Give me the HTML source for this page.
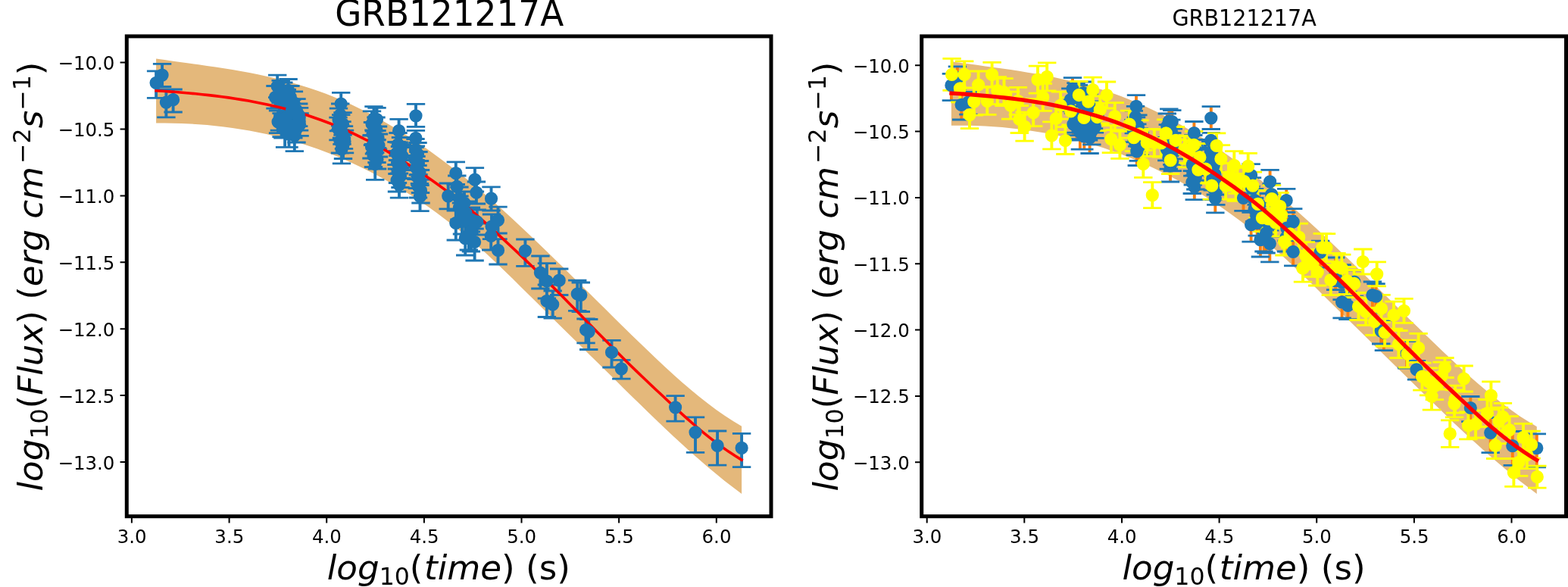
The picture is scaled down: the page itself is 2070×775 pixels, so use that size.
<!DOCTYPE html>
<html lang="en">
<head>
<meta charset="utf-8">
<title>GRB121217A light curve</title>
<style>html,body{margin:0;padding:0;background:#fff;overflow:hidden}svg{display:block}</style>
</head>
<body>
<svg width="2070" height="775" viewBox="0 0 2070 775" font-family="'DejaVu Sans', 'Liberation Sans', sans-serif" fill="#000">
<rect width="2070" height="775" fill="#fff"/>
<defs><clipPath id="cl"><rect x="167.3" y="47.9" width="850.7" height="633.8"/></clipPath>
<clipPath id="cr"><rect x="1216.7" y="47.9" width="850.8" height="633.8"/></clipPath>
</defs>
<g clip-path="url(#cl)">
<path d="M206.1,77.5 L217.3,79.1 L228.5,80.7 L239.7,82.2 L250.9,83.8 L262.1,85.3 L273.3,86.9 L284.5,88.6 L295.7,90.3 L306.9,92.1 L318.1,94.1 L329.3,96.1 L340.5,98.3 L351.7,100.7 L362.9,103.3 L374.1,106.1 L385.3,109.1 L396.5,112.4 L407.8,115.9 L419.0,119.7 L430.2,123.8 L441.4,128.2 L452.6,132.9 L463.8,138.0 L475.0,143.4 L486.2,149.1 L497.4,155.1 L508.6,161.4 L519.8,168.0 L531.0,174.9 L542.2,182.1 L553.4,189.6 L564.6,197.3 L575.8,205.4 L587.0,213.7 L598.2,222.2 L609.4,231.1 L620.6,240.1 L631.8,249.5 L643.0,259.0 L654.2,268.8 L665.4,278.8 L676.6,289.0 L687.8,299.4 L699.0,310.0 L710.2,320.7 L721.4,331.5 L732.6,342.4 L743.8,353.3 L755.0,364.4 L766.2,375.5 L777.4,386.6 L788.7,397.7 L799.9,408.8 L811.1,419.9 L822.3,431.0 L833.5,441.9 L844.7,452.8 L855.9,463.6 L867.1,474.2 L878.3,484.7 L889.5,494.9 L900.7,504.9 L911.9,514.5 L923.1,523.8 L934.3,532.6 L945.5,541.0 L956.7,548.8 L967.9,556.1 L979.1,562.7 L979.1,651.9 L967.9,643.6 L956.7,634.9 L945.5,625.8 L934.3,616.4 L923.1,606.8 L911.9,596.9 L900.7,586.8 L889.5,576.4 L878.3,565.9 L867.1,555.3 L855.9,544.5 L844.7,533.6 L833.5,522.7 L822.3,511.7 L811.1,500.6 L799.9,489.5 L788.7,478.4 L777.4,467.4 L766.2,456.3 L755.0,445.2 L743.8,434.2 L732.6,423.2 L721.4,412.2 L710.2,401.1 L699.0,390.0 L687.8,378.9 L676.6,367.8 L665.4,356.9 L654.2,346.2 L643.0,335.8 L631.8,325.7 L620.6,316.0 L609.4,306.6 L598.2,297.6 L587.0,289.0 L575.8,280.6 L564.6,272.6 L553.4,264.9 L542.2,257.6 L531.0,250.5 L519.8,243.8 L508.6,237.4 L497.4,231.3 L486.2,225.5 L475.0,220.0 L463.8,214.7 L452.6,209.8 L441.4,205.1 L430.2,200.7 L419.0,196.6 L407.8,192.7 L396.5,189.1 L385.3,185.7 L374.1,182.6 L362.9,179.8 L351.7,177.1 L340.5,174.8 L329.3,172.6 L318.1,170.7 L306.9,168.9 L295.7,167.4 L284.5,166.2 L273.3,165.1 L262.1,164.2 L250.9,163.5 L239.7,163.0 L228.5,162.7 L217.3,162.6 L206.1,162.6Z" fill="#e4b87b"/>
<path d="M214.1,84.3V114.5M206.1,93.8V129.3M219.4,118.0V154.9M228.6,118.0V148.0M366.2,99.1V128.7M363.5,113.5V143.2M380.6,104.5V134.1M374.3,109.0V138.6M383.4,113.5V143.2M370.7,106.3V135.9M387.9,120.8V150.4M385.2,131.6V161.2M391.5,130.7V160.3M394.2,137.0V166.6M395.1,142.4V172.1M368.9,142.4V172.1M371.6,149.7V180.7M376.1,156.4V194.3M381.5,161.8V194.3M388.8,163.6V199.7M391.5,154.5V188.0M395.6,149.7V179.3M367.1,146.1V175.7M378.8,118.1V147.7M373.4,152.4V182.0M377.0,141.0V170.6M387.3,152.4V182.0M450.2,122.4V151.6M449.2,137.0V166.0M447.0,143.2V172.8M452.5,148.7V178.3M446.5,155.2V184.8M451.5,160.7V190.3M454.0,166.7V196.3M449.0,171.7V202.0M453.0,176.7V209.5M451.0,182.2V215.8M455.0,172.2V201.8M493.5,140.7V171.9M497.5,142.4V172.5M491.0,146.8V178.5M496.5,155.0V185.0M492.0,161.5V191.5M499.0,167.0V197.0M494.0,173.0V203.0M490.5,179.0V209.0M497.5,184.5V214.5M493.0,190.5V220.5M498.0,195.5V223.0M495.2,201.5V237.4M500.0,177.0V207.0M526.6,157.4V188.0M525.5,175.5V205.5M529.0,181.5V211.5M523.5,187.5V217.5M528.0,193.5V223.5M524.5,199.5V229.5M530.0,205.5V235.5M525.0,211.5V241.5M528.5,217.5V247.5M524.0,223.0V253.0M527.0,229.0V261.2M531.0,191.0V221.0M549.0,137.4V167.4M548.9,172.3V192.8M548.5,183.5V211.5M551.5,188.5V218.5M547.5,194.5V224.5M552.5,200.5V230.5M549.5,206.5V236.5M554.0,212.5V242.5M551.0,218.5V248.5M555.0,224.5V254.5M552.0,231.0V261.0M555.5,237.0V268.0M554.5,244.5V278.6M601.8,213.9V243.5M626.9,221.7V253.0M591.7,242.0V275.9M628.9,240.0V269.0M648.5,246.9V278.0M657.5,273.2V308.0M649.0,283.0V315.7M648.2,295.0V330.0M603.3,232.0V261.0M606.4,247.0V277.0M606.4,259.0V290.0M613.0,253.0V284.0M601.8,278.0V317.0M610.0,276.0V309.0M621.9,274.0V306.0M629.7,277.0V310.0M621.9,288.0V332.0M614.2,297.0V337.0M618.8,295.0V330.0M626.6,302.0V344.0M615.0,266.0V297.0M609.0,268.0V299.0M657.5,315.7V349.0M693.4,316.0V351.3M713.4,338.0V381.0M721.9,347.7V394.0M738.2,355.0V389.5M762.2,370.2V410.4M766.8,373.0V411.5M721.9,376.0V418.5M729.7,384.0V420.2M773.5,421.0V452.8M777.2,421.5V461.5M807.5,449.4V485.0M820.3,475.4V500.2M891.6,522.7V556.1M918.0,550.9V597.4M947.1,569.0V614.1M979.1,572.3V616.7" stroke="#1f77b4" stroke-width="3.9" fill="none"/>
<path d="M201.9,84.3h24.4M201.9,114.5h24.4M193.9,93.8h24.4M193.9,129.3h24.4M207.2,118.0h24.4M207.2,154.9h24.4M216.4,118.0h24.4M216.4,148.0h24.4M354.0,99.1h24.4M354.0,128.7h24.4M351.3,113.5h24.4M351.3,143.2h24.4M368.4,104.5h24.4M368.4,134.1h24.4M362.1,109.0h24.4M362.1,138.6h24.4M371.2,113.5h24.4M371.2,143.2h24.4M358.5,106.3h24.4M358.5,135.9h24.4M375.7,120.8h24.4M375.7,150.4h24.4M373.0,131.6h24.4M373.0,161.2h24.4M379.3,130.7h24.4M379.3,160.3h24.4M382.0,137.0h24.4M382.0,166.6h24.4M382.9,142.4h24.4M382.9,172.1h24.4M356.7,142.4h24.4M356.7,172.1h24.4M359.4,149.7h24.4M359.4,180.7h24.4M363.9,156.4h24.4M363.9,194.3h24.4M369.3,161.8h24.4M369.3,194.3h24.4M376.6,163.6h24.4M376.6,199.7h24.4M379.3,154.5h24.4M379.3,188.0h24.4M383.4,149.7h24.4M383.4,179.3h24.4M354.9,146.1h24.4M354.9,175.7h24.4M366.6,118.1h24.4M366.6,147.7h24.4M361.2,152.4h24.4M361.2,182.0h24.4M364.8,141.0h24.4M364.8,170.6h24.4M375.1,152.4h24.4M375.1,182.0h24.4M438.0,122.4h24.4M438.0,151.6h24.4M437.0,137.0h24.4M437.0,166.0h24.4M434.8,143.2h24.4M434.8,172.8h24.4M440.3,148.7h24.4M440.3,178.3h24.4M434.3,155.2h24.4M434.3,184.8h24.4M439.3,160.7h24.4M439.3,190.3h24.4M441.8,166.7h24.4M441.8,196.3h24.4M436.8,171.7h24.4M436.8,202.0h24.4M440.8,176.7h24.4M440.8,209.5h24.4M438.8,182.2h24.4M438.8,215.8h24.4M442.8,172.2h24.4M442.8,201.8h24.4M481.3,140.7h24.4M481.3,171.9h24.4M485.3,142.4h24.4M485.3,172.5h24.4M478.8,146.8h24.4M478.8,178.5h24.4M484.3,155.0h24.4M484.3,185.0h24.4M479.8,161.5h24.4M479.8,191.5h24.4M486.8,167.0h24.4M486.8,197.0h24.4M481.8,173.0h24.4M481.8,203.0h24.4M478.3,179.0h24.4M478.3,209.0h24.4M485.3,184.5h24.4M485.3,214.5h24.4M480.8,190.5h24.4M480.8,220.5h24.4M485.8,195.5h24.4M485.8,223.0h24.4M483.0,201.5h24.4M483.0,237.4h24.4M487.8,177.0h24.4M487.8,207.0h24.4M514.4,157.4h24.4M514.4,188.0h24.4M513.3,175.5h24.4M513.3,205.5h24.4M516.8,181.5h24.4M516.8,211.5h24.4M511.3,187.5h24.4M511.3,217.5h24.4M515.8,193.5h24.4M515.8,223.5h24.4M512.3,199.5h24.4M512.3,229.5h24.4M517.8,205.5h24.4M517.8,235.5h24.4M512.8,211.5h24.4M512.8,241.5h24.4M516.3,217.5h24.4M516.3,247.5h24.4M511.8,223.0h24.4M511.8,253.0h24.4M514.8,229.0h24.4M514.8,261.2h24.4M518.8,191.0h24.4M518.8,221.0h24.4M536.8,137.4h24.4M536.8,167.4h24.4M536.7,172.3h24.4M536.7,192.8h24.4M536.3,183.5h24.4M536.3,211.5h24.4M539.3,188.5h24.4M539.3,218.5h24.4M535.3,194.5h24.4M535.3,224.5h24.4M540.3,200.5h24.4M540.3,230.5h24.4M537.3,206.5h24.4M537.3,236.5h24.4M541.8,212.5h24.4M541.8,242.5h24.4M538.8,218.5h24.4M538.8,248.5h24.4M542.8,224.5h24.4M542.8,254.5h24.4M539.8,231.0h24.4M539.8,261.0h24.4M543.3,237.0h24.4M543.3,268.0h24.4M542.3,244.5h24.4M542.3,278.6h24.4M589.6,213.9h24.4M589.6,243.5h24.4M614.7,221.7h24.4M614.7,253.0h24.4M579.5,242.0h24.4M579.5,275.9h24.4M616.7,240.0h24.4M616.7,269.0h24.4M636.3,246.9h24.4M636.3,278.0h24.4M645.3,273.2h24.4M645.3,308.0h24.4M636.8,283.0h24.4M636.8,315.7h24.4M636.0,295.0h24.4M636.0,330.0h24.4M591.1,232.0h24.4M591.1,261.0h24.4M594.2,247.0h24.4M594.2,277.0h24.4M594.2,259.0h24.4M594.2,290.0h24.4M600.8,253.0h24.4M600.8,284.0h24.4M589.6,278.0h24.4M589.6,317.0h24.4M597.8,276.0h24.4M597.8,309.0h24.4M609.7,274.0h24.4M609.7,306.0h24.4M617.5,277.0h24.4M617.5,310.0h24.4M609.7,288.0h24.4M609.7,332.0h24.4M602.0,297.0h24.4M602.0,337.0h24.4M606.6,295.0h24.4M606.6,330.0h24.4M614.4,302.0h24.4M614.4,344.0h24.4M602.8,266.0h24.4M602.8,297.0h24.4M596.8,268.0h24.4M596.8,299.0h24.4M645.3,315.7h24.4M645.3,349.0h24.4M681.2,316.0h24.4M681.2,351.3h24.4M701.2,338.0h24.4M701.2,381.0h24.4M709.7,347.7h24.4M709.7,394.0h24.4M726.0,355.0h24.4M726.0,389.5h24.4M750.0,370.2h24.4M750.0,410.4h24.4M754.6,373.0h24.4M754.6,411.5h24.4M709.7,376.0h24.4M709.7,418.5h24.4M717.5,384.0h24.4M717.5,420.2h24.4M761.3,421.0h24.4M761.3,452.8h24.4M765.0,421.5h24.4M765.0,461.5h24.4M795.3,449.4h24.4M795.3,485.0h24.4M808.1,475.4h24.4M808.1,500.2h24.4M879.4,522.7h24.4M879.4,556.1h24.4M905.8,550.9h24.4M905.8,597.4h24.4M934.9,569.0h24.4M934.9,614.1h24.4M966.9,572.3h24.4M966.9,616.7h24.4" stroke="#1f77b4" stroke-width="2.8" fill="none"/>
<path d="M206.1,119.7 L214.8,120.2 L223.5,120.9 L232.2,121.5 L240.8,122.2 L249.5,123.0 L258.2,123.8 L266.9,124.7 L275.6,125.6 L284.3,126.6 L293.0,127.7 L301.6,128.9 L310.3,130.2 L319.0,131.6 L327.7,133.1 L336.4,134.7 L345.1,136.4 L353.8,138.2 L362.4,140.2 L371.1,142.3 L379.8,144.6 L388.5,147.0 L397.2,149.5 L405.9,152.3 L414.5,155.2 L423.2,158.2 L431.9,161.5 L440.6,164.9 L449.3,168.5 L458.0,172.3 L466.7,176.3 L475.3,180.6 L484.0,185.0 L492.7,189.6 L501.4,194.3 L510.1,199.3 L518.8,204.4 L527.5,209.7 L536.1,215.2 L544.8,220.8 L553.5,226.5 L562.2,232.4 L570.9,238.5 L579.6,244.7 L588.3,251.1 L596.9,257.6 L605.6,264.4 L614.3,271.4 L623.0,278.7 L631.7,286.2 L640.4,293.9 L649.1,301.7 L657.7,309.6 L666.4,317.6 L675.1,325.7 L683.8,333.9 L692.5,342.1 L701.2,350.5 L709.9,359.0 L718.5,367.5 L727.2,376.1 L735.9,384.8 L744.6,393.6 L753.3,402.4 L762.0,411.3 L770.7,420.2 L779.3,429.0 L788.0,437.9 L796.7,446.8 L805.4,455.6 L814.1,464.3 L822.8,473.0 L831.4,481.5 L840.1,489.9 L848.8,498.2 L857.5,506.5 L866.2,514.7 L874.9,522.8 L883.6,531.0 L892.2,539.1 L900.9,547.1 L909.6,554.9 L918.3,562.5 L927.0,569.8 L935.7,576.8 L944.4,583.6 L953.0,590.0 L961.7,596.1 L970.4,601.8 L979.1,607.2" stroke="#ff0000" stroke-width="3.6" fill="none" stroke-linecap="square"/>
<path d="M205.5,99.1a8.6,8.6 0 1,0 17.2,0a8.6,8.6 0 1,0 -17.2,0M197.5,109.3a8.6,8.6 0 1,0 17.2,0a8.6,8.6 0 1,0 -17.2,0M210.8,135.1a8.6,8.6 0 1,0 17.2,0a8.6,8.6 0 1,0 -17.2,0M220.0,131.7a8.6,8.6 0 1,0 17.2,0a8.6,8.6 0 1,0 -17.2,0M357.6,113.9a8.6,8.6 0 1,0 17.2,0a8.6,8.6 0 1,0 -17.2,0M354.9,128.4a8.6,8.6 0 1,0 17.2,0a8.6,8.6 0 1,0 -17.2,0M372.0,119.3a8.6,8.6 0 1,0 17.2,0a8.6,8.6 0 1,0 -17.2,0M365.7,123.8a8.6,8.6 0 1,0 17.2,0a8.6,8.6 0 1,0 -17.2,0M374.8,128.4a8.6,8.6 0 1,0 17.2,0a8.6,8.6 0 1,0 -17.2,0M362.1,121.1a8.6,8.6 0 1,0 17.2,0a8.6,8.6 0 1,0 -17.2,0M379.3,135.6a8.6,8.6 0 1,0 17.2,0a8.6,8.6 0 1,0 -17.2,0M376.6,146.4a8.6,8.6 0 1,0 17.2,0a8.6,8.6 0 1,0 -17.2,0M382.9,145.5a8.6,8.6 0 1,0 17.2,0a8.6,8.6 0 1,0 -17.2,0M385.6,151.8a8.6,8.6 0 1,0 17.2,0a8.6,8.6 0 1,0 -17.2,0M386.5,157.3a8.6,8.6 0 1,0 17.2,0a8.6,8.6 0 1,0 -17.2,0M360.3,157.3a8.6,8.6 0 1,0 17.2,0a8.6,8.6 0 1,0 -17.2,0M363.0,164.5a8.6,8.6 0 1,0 17.2,0a8.6,8.6 0 1,0 -17.2,0M367.5,171.7a8.6,8.6 0 1,0 17.2,0a8.6,8.6 0 1,0 -17.2,0M372.9,177.1a8.6,8.6 0 1,0 17.2,0a8.6,8.6 0 1,0 -17.2,0M380.2,178.9a8.6,8.6 0 1,0 17.2,0a8.6,8.6 0 1,0 -17.2,0M382.9,169.9a8.6,8.6 0 1,0 17.2,0a8.6,8.6 0 1,0 -17.2,0M387.0,164.5a8.6,8.6 0 1,0 17.2,0a8.6,8.6 0 1,0 -17.2,0M358.5,160.9a8.6,8.6 0 1,0 17.2,0a8.6,8.6 0 1,0 -17.2,0M370.2,132.9a8.6,8.6 0 1,0 17.2,0a8.6,8.6 0 1,0 -17.2,0M364.8,167.2a8.6,8.6 0 1,0 17.2,0a8.6,8.6 0 1,0 -17.2,0M368.4,155.8a8.6,8.6 0 1,0 17.2,0a8.6,8.6 0 1,0 -17.2,0M378.7,167.2a8.6,8.6 0 1,0 17.2,0a8.6,8.6 0 1,0 -17.2,0M441.6,137.1a8.6,8.6 0 1,0 17.2,0a8.6,8.6 0 1,0 -17.2,0M440.6,151.5a8.6,8.6 0 1,0 17.2,0a8.6,8.6 0 1,0 -17.2,0M438.4,158.0a8.6,8.6 0 1,0 17.2,0a8.6,8.6 0 1,0 -17.2,0M443.9,163.5a8.6,8.6 0 1,0 17.2,0a8.6,8.6 0 1,0 -17.2,0M437.9,170.0a8.6,8.6 0 1,0 17.2,0a8.6,8.6 0 1,0 -17.2,0M442.9,175.5a8.6,8.6 0 1,0 17.2,0a8.6,8.6 0 1,0 -17.2,0M445.4,181.5a8.6,8.6 0 1,0 17.2,0a8.6,8.6 0 1,0 -17.2,0M440.4,186.5a8.6,8.6 0 1,0 17.2,0a8.6,8.6 0 1,0 -17.2,0M444.4,191.5a8.6,8.6 0 1,0 17.2,0a8.6,8.6 0 1,0 -17.2,0M442.4,197.0a8.6,8.6 0 1,0 17.2,0a8.6,8.6 0 1,0 -17.2,0M446.4,187.0a8.6,8.6 0 1,0 17.2,0a8.6,8.6 0 1,0 -17.2,0M484.9,156.9a8.6,8.6 0 1,0 17.2,0a8.6,8.6 0 1,0 -17.2,0M488.9,157.5a8.6,8.6 0 1,0 17.2,0a8.6,8.6 0 1,0 -17.2,0M482.4,163.5a8.6,8.6 0 1,0 17.2,0a8.6,8.6 0 1,0 -17.2,0M487.9,170.0a8.6,8.6 0 1,0 17.2,0a8.6,8.6 0 1,0 -17.2,0M483.4,176.5a8.6,8.6 0 1,0 17.2,0a8.6,8.6 0 1,0 -17.2,0M490.4,182.0a8.6,8.6 0 1,0 17.2,0a8.6,8.6 0 1,0 -17.2,0M485.4,188.0a8.6,8.6 0 1,0 17.2,0a8.6,8.6 0 1,0 -17.2,0M481.9,194.0a8.6,8.6 0 1,0 17.2,0a8.6,8.6 0 1,0 -17.2,0M488.9,199.5a8.6,8.6 0 1,0 17.2,0a8.6,8.6 0 1,0 -17.2,0M484.4,205.5a8.6,8.6 0 1,0 17.2,0a8.6,8.6 0 1,0 -17.2,0M489.4,210.5a8.6,8.6 0 1,0 17.2,0a8.6,8.6 0 1,0 -17.2,0M486.6,216.5a8.6,8.6 0 1,0 17.2,0a8.6,8.6 0 1,0 -17.2,0M491.4,192.0a8.6,8.6 0 1,0 17.2,0a8.6,8.6 0 1,0 -17.2,0M518.0,172.7a8.6,8.6 0 1,0 17.2,0a8.6,8.6 0 1,0 -17.2,0M516.9,190.5a8.6,8.6 0 1,0 17.2,0a8.6,8.6 0 1,0 -17.2,0M520.4,196.5a8.6,8.6 0 1,0 17.2,0a8.6,8.6 0 1,0 -17.2,0M514.9,202.5a8.6,8.6 0 1,0 17.2,0a8.6,8.6 0 1,0 -17.2,0M519.4,208.5a8.6,8.6 0 1,0 17.2,0a8.6,8.6 0 1,0 -17.2,0M515.9,214.5a8.6,8.6 0 1,0 17.2,0a8.6,8.6 0 1,0 -17.2,0M521.4,220.5a8.6,8.6 0 1,0 17.2,0a8.6,8.6 0 1,0 -17.2,0M516.4,226.5a8.6,8.6 0 1,0 17.2,0a8.6,8.6 0 1,0 -17.2,0M519.9,232.5a8.6,8.6 0 1,0 17.2,0a8.6,8.6 0 1,0 -17.2,0M515.4,238.0a8.6,8.6 0 1,0 17.2,0a8.6,8.6 0 1,0 -17.2,0M518.4,244.0a8.6,8.6 0 1,0 17.2,0a8.6,8.6 0 1,0 -17.2,0M522.4,206.0a8.6,8.6 0 1,0 17.2,0a8.6,8.6 0 1,0 -17.2,0M540.4,152.8a8.6,8.6 0 1,0 17.2,0a8.6,8.6 0 1,0 -17.2,0M540.3,182.3a8.6,8.6 0 1,0 17.2,0a8.6,8.6 0 1,0 -17.2,0M539.9,197.5a8.6,8.6 0 1,0 17.2,0a8.6,8.6 0 1,0 -17.2,0M542.9,203.5a8.6,8.6 0 1,0 17.2,0a8.6,8.6 0 1,0 -17.2,0M538.9,209.5a8.6,8.6 0 1,0 17.2,0a8.6,8.6 0 1,0 -17.2,0M543.9,215.5a8.6,8.6 0 1,0 17.2,0a8.6,8.6 0 1,0 -17.2,0M540.9,221.5a8.6,8.6 0 1,0 17.2,0a8.6,8.6 0 1,0 -17.2,0M545.4,227.5a8.6,8.6 0 1,0 17.2,0a8.6,8.6 0 1,0 -17.2,0M542.4,233.5a8.6,8.6 0 1,0 17.2,0a8.6,8.6 0 1,0 -17.2,0M546.4,239.5a8.6,8.6 0 1,0 17.2,0a8.6,8.6 0 1,0 -17.2,0M543.4,246.0a8.6,8.6 0 1,0 17.2,0a8.6,8.6 0 1,0 -17.2,0M546.9,252.0a8.6,8.6 0 1,0 17.2,0a8.6,8.6 0 1,0 -17.2,0M545.9,259.5a8.6,8.6 0 1,0 17.2,0a8.6,8.6 0 1,0 -17.2,0M593.2,228.6a8.6,8.6 0 1,0 17.2,0a8.6,8.6 0 1,0 -17.2,0M618.3,237.2a8.6,8.6 0 1,0 17.2,0a8.6,8.6 0 1,0 -17.2,0M583.1,258.8a8.6,8.6 0 1,0 17.2,0a8.6,8.6 0 1,0 -17.2,0M620.3,254.2a8.6,8.6 0 1,0 17.2,0a8.6,8.6 0 1,0 -17.2,0M639.9,262.2a8.6,8.6 0 1,0 17.2,0a8.6,8.6 0 1,0 -17.2,0M648.9,290.6a8.6,8.6 0 1,0 17.2,0a8.6,8.6 0 1,0 -17.2,0M640.4,299.0a8.6,8.6 0 1,0 17.2,0a8.6,8.6 0 1,0 -17.2,0M639.6,311.5a8.6,8.6 0 1,0 17.2,0a8.6,8.6 0 1,0 -17.2,0M594.7,246.4a8.6,8.6 0 1,0 17.2,0a8.6,8.6 0 1,0 -17.2,0M597.8,262.0a8.6,8.6 0 1,0 17.2,0a8.6,8.6 0 1,0 -17.2,0M597.8,274.0a8.6,8.6 0 1,0 17.2,0a8.6,8.6 0 1,0 -17.2,0M604.4,268.0a8.6,8.6 0 1,0 17.2,0a8.6,8.6 0 1,0 -17.2,0M593.2,294.4a8.6,8.6 0 1,0 17.2,0a8.6,8.6 0 1,0 -17.2,0M601.4,292.0a8.6,8.6 0 1,0 17.2,0a8.6,8.6 0 1,0 -17.2,0M613.3,289.8a8.6,8.6 0 1,0 17.2,0a8.6,8.6 0 1,0 -17.2,0M621.1,292.9a8.6,8.6 0 1,0 17.2,0a8.6,8.6 0 1,0 -17.2,0M613.3,305.3a8.6,8.6 0 1,0 17.2,0a8.6,8.6 0 1,0 -17.2,0M605.6,314.6a8.6,8.6 0 1,0 17.2,0a8.6,8.6 0 1,0 -17.2,0M610.2,311.8a8.6,8.6 0 1,0 17.2,0a8.6,8.6 0 1,0 -17.2,0M618.0,319.5a8.6,8.6 0 1,0 17.2,0a8.6,8.6 0 1,0 -17.2,0M606.4,281.0a8.6,8.6 0 1,0 17.2,0a8.6,8.6 0 1,0 -17.2,0M600.4,283.0a8.6,8.6 0 1,0 17.2,0a8.6,8.6 0 1,0 -17.2,0M648.9,330.4a8.6,8.6 0 1,0 17.2,0a8.6,8.6 0 1,0 -17.2,0M684.8,331.1a8.6,8.6 0 1,0 17.2,0a8.6,8.6 0 1,0 -17.2,0M704.8,360.1a8.6,8.6 0 1,0 17.2,0a8.6,8.6 0 1,0 -17.2,0M713.3,371.0a8.6,8.6 0 1,0 17.2,0a8.6,8.6 0 1,0 -17.2,0M729.6,370.2a8.6,8.6 0 1,0 17.2,0a8.6,8.6 0 1,0 -17.2,0M753.6,388.0a8.6,8.6 0 1,0 17.2,0a8.6,8.6 0 1,0 -17.2,0M758.2,389.5a8.6,8.6 0 1,0 17.2,0a8.6,8.6 0 1,0 -17.2,0M713.3,397.3a8.6,8.6 0 1,0 17.2,0a8.6,8.6 0 1,0 -17.2,0M721.1,401.9a8.6,8.6 0 1,0 17.2,0a8.6,8.6 0 1,0 -17.2,0M764.9,435.5a8.6,8.6 0 1,0 17.2,0a8.6,8.6 0 1,0 -17.2,0M768.6,437.8a8.6,8.6 0 1,0 17.2,0a8.6,8.6 0 1,0 -17.2,0M798.9,465.2a8.6,8.6 0 1,0 17.2,0a8.6,8.6 0 1,0 -17.2,0M811.7,486.9a8.6,8.6 0 1,0 17.2,0a8.6,8.6 0 1,0 -17.2,0M883.0,537.8a8.6,8.6 0 1,0 17.2,0a8.6,8.6 0 1,0 -17.2,0M909.4,570.8a8.6,8.6 0 1,0 17.2,0a8.6,8.6 0 1,0 -17.2,0M938.5,588.3a8.6,8.6 0 1,0 17.2,0a8.6,8.6 0 1,0 -17.2,0M970.5,591.4a8.6,8.6 0 1,0 17.2,0a8.6,8.6 0 1,0 -17.2,0" fill="#1f77b4"/>
</g>
<rect x="167.3" y="47.9" width="850.7" height="633.8" fill="none" stroke="#000" stroke-width="5.0"/>
<path d="M173.9,681.7v8.7M302.6,681.7v8.7M431.2,681.7v8.7M559.9,681.7v8.7M688.5,681.7v8.7M817.1,681.7v8.7M945.8,681.7v8.7M167.3,82.6h-8.7M167.3,170.5h-8.7M167.3,258.4h-8.7M167.3,346.3h-8.7M167.3,434.2h-8.7M167.3,522.1h-8.7M167.3,610.0h-8.7" stroke="#000" stroke-width="2.0" fill="none"/>
<g font-size="25.5px">
<text transform="translate(174.1,717.4) scale(0.96,1)" text-anchor="middle">3.0</text>
<text transform="translate(302.8,717.4) scale(0.96,1)" text-anchor="middle">3.5</text>
<text transform="translate(431.4,717.4) scale(0.96,1)" text-anchor="middle">4.0</text>
<text transform="translate(560.1,717.4) scale(0.96,1)" text-anchor="middle">4.5</text>
<text transform="translate(688.7,717.4) scale(0.96,1)" text-anchor="middle">5.0</text>
<text transform="translate(817.4,717.4) scale(0.96,1)" text-anchor="middle">5.5</text>
<text transform="translate(946.0,717.4) scale(0.96,1)" text-anchor="middle">6.0</text>
<text transform="translate(151.4,92.1) scale(0.96,1)" text-anchor="end">−10.0</text>
<text transform="translate(151.4,180.0) scale(0.96,1)" text-anchor="end">−10.5</text>
<text transform="translate(151.4,267.9) scale(0.96,1)" text-anchor="end">−11.0</text>
<text transform="translate(151.4,355.8) scale(0.96,1)" text-anchor="end">−11.5</text>
<text transform="translate(151.4,443.7) scale(0.96,1)" text-anchor="end">−12.0</text>
<text transform="translate(151.4,531.6) scale(0.96,1)" text-anchor="end">−12.5</text>
<text transform="translate(151.4,619.5) scale(0.96,1)" text-anchor="end">−13.0</text>
</g>
<text transform="translate(593.2,33.6) scale(0.955,1)" text-anchor="middle" font-size="47.5px">GRB121217A</text>
<text x="592.3" y="764.9" text-anchor="middle" font-size="45.2px"><tspan font-style="italic">log</tspan><tspan font-size="31.6px" dy="7.5">10</tspan><tspan dy="-7.5">(</tspan><tspan font-style="italic" dx="1.5">time</tspan>) (s)</text>
<text transform="translate(55.5,365.0) rotate(-90)" text-anchor="middle" font-size="45.2px"><tspan font-style="italic">log</tspan><tspan font-size="31.6px" dy="7.5">10</tspan><tspan dy="-7.5">(</tspan><tspan font-style="italic">Flux</tspan>) (<tspan font-style="italic">erg cm</tspan><tspan font-size="31.6px" dy="-16.0" dx="4.0">−2</tspan><tspan font-style="italic" dy="16.0">s</tspan><tspan font-size="31.6px" dy="-16.0">−1</tspan><tspan dy="16.0">)</tspan></text>
<g clip-path="url(#cr)">
<path d="M1255.9,81.2 L1267.1,82.8 L1278.3,84.3 L1289.5,85.8 L1300.7,87.4 L1311.9,88.9 L1323.1,90.5 L1334.3,92.1 L1345.5,93.8 L1356.7,95.7 L1367.9,97.6 L1379.1,99.6 L1390.3,101.8 L1401.5,104.2 L1412.7,106.8 L1423.9,109.5 L1435.1,112.5 L1446.3,115.8 L1457.5,119.3 L1468.7,123.0 L1479.9,127.1 L1491.1,131.5 L1502.3,136.2 L1513.5,141.2 L1524.7,146.6 L1535.9,152.2 L1547.1,158.2 L1558.3,164.5 L1569.5,171.0 L1580.7,177.9 L1591.9,185.1 L1603.1,192.5 L1614.3,200.2 L1625.5,208.2 L1636.8,216.4 L1648.0,224.9 L1659.2,233.7 L1670.4,242.7 L1681.6,252.0 L1692.8,261.5 L1704.0,271.2 L1715.2,281.2 L1726.4,291.3 L1737.6,301.6 L1748.8,312.1 L1760.0,322.7 L1771.2,333.5 L1782.4,344.3 L1793.6,355.2 L1804.8,366.2 L1816.0,377.2 L1827.2,388.3 L1838.4,399.3 L1849.6,410.4 L1860.8,421.4 L1872.0,432.3 L1883.2,443.2 L1894.4,454.0 L1905.6,464.7 L1916.8,475.3 L1928.0,485.7 L1939.2,495.9 L1950.4,505.7 L1961.6,515.3 L1972.8,524.5 L1984.0,533.3 L1995.2,541.6 L2006.4,549.4 L2017.6,556.6 L2028.8,563.2 L2028.8,651.9 L2017.6,643.6 L2006.4,634.9 L1995.2,625.9 L1984.0,616.6 L1972.8,607.0 L1961.6,597.2 L1950.4,587.1 L1939.2,576.9 L1928.0,566.4 L1916.8,555.9 L1905.6,545.1 L1894.4,534.3 L1883.2,523.4 L1872.0,512.5 L1860.8,501.5 L1849.6,490.5 L1838.4,479.5 L1827.2,468.5 L1816.0,457.5 L1804.8,446.5 L1793.6,435.6 L1782.4,424.6 L1771.2,413.7 L1760.0,402.7 L1748.8,391.7 L1737.6,380.6 L1726.4,369.6 L1715.2,358.8 L1704.0,348.1 L1692.8,337.7 L1681.6,327.7 L1670.4,318.1 L1659.2,308.8 L1648.0,299.8 L1636.8,291.2 L1625.5,282.9 L1614.3,275.0 L1603.1,267.4 L1591.9,260.1 L1580.7,253.1 L1569.5,246.4 L1558.3,240.0 L1547.1,233.9 L1535.9,228.2 L1524.7,222.7 L1513.5,217.5 L1502.3,212.5 L1491.1,207.9 L1479.9,203.5 L1468.7,199.4 L1457.5,195.6 L1446.3,192.0 L1435.1,188.7 L1423.9,185.6 L1412.7,182.7 L1401.5,180.1 L1390.3,177.8 L1379.1,175.6 L1367.9,173.7 L1356.7,172.0 L1345.5,170.5 L1334.3,169.2 L1323.1,168.1 L1311.9,167.3 L1300.7,166.6 L1289.5,166.1 L1278.3,165.8 L1267.1,165.7 L1255.9,165.7Z" fill="#e4b87b"/>
<path d="M1263.9,87.9V117.9M1255.9,97.3V132.6M1269.2,121.4V158.0M1278.4,121.4V151.2M1416.0,102.6V132.0M1413.3,116.9V146.4M1430.4,108.0V137.4M1424.1,112.4V141.8M1433.2,116.9V146.4M1420.5,109.7V139.2M1437.7,124.2V153.6M1435.0,134.9V164.3M1441.3,134.0V163.4M1444.0,140.3V169.7M1444.9,145.6V175.1M1418.7,145.6V175.1M1421.4,152.9V183.7M1425.9,159.5V197.2M1431.3,164.9V197.2M1438.6,166.7V202.5M1441.3,157.6V190.9M1445.4,152.9V182.3M1416.9,149.3V178.7M1428.6,121.5V150.9M1423.2,155.6V185.0M1426.8,144.2V173.6M1437.1,155.6V185.0M1500.0,125.7V154.8M1499.0,140.3V169.1M1496.8,146.4V175.8M1502.3,151.9V181.3M1496.3,158.3V187.7M1501.3,163.8V193.2M1503.8,169.8V199.2M1498.8,174.7V204.8M1502.8,179.7V212.3M1500.8,185.2V218.5M1504.8,175.2V204.6M1543.3,143.9V174.9M1547.3,145.6V175.5M1540.8,150.0V181.5M1546.3,158.1V187.9M1541.8,164.6V194.4M1548.8,170.1V199.9M1543.8,176.0V205.8M1540.3,182.0V211.8M1547.3,187.4V217.3M1542.8,193.4V223.2M1547.8,198.4V225.7M1545.0,204.3V240.0M1549.8,180.0V209.8M1576.4,160.5V190.9M1575.3,178.5V208.3M1578.8,184.5V214.3M1573.3,190.4V220.2M1577.8,196.4V226.2M1574.3,202.3V232.2M1579.8,208.3V238.1M1574.8,214.3V244.1M1578.3,220.2V250.0M1573.8,225.7V255.5M1576.8,231.7V263.7M1580.8,193.9V223.7M1598.8,140.6V170.5M1598.7,175.3V195.7M1598.3,186.5V214.3M1601.3,191.4V221.2M1597.3,197.4V227.2M1602.3,203.3V233.1M1599.3,209.3V239.1M1603.8,215.3V245.1M1600.8,221.2V251.0M1604.8,227.2V257.0M1601.8,233.6V263.5M1605.3,239.6V270.4M1604.3,247.1V280.9M1651.6,216.7V246.1M1676.6,224.4V255.5M1641.5,244.6V278.3M1678.6,242.6V271.4M1698.2,249.4V280.3M1707.2,275.6V310.2M1698.7,285.3V317.8M1697.9,297.2V332.0M1653.0,234.6V263.5M1656.1,249.5V279.4M1656.1,261.5V292.3M1662.7,255.5V286.3M1651.6,280.3V319.1M1659.7,278.4V311.1M1671.6,276.4V308.2M1679.4,279.4V312.1M1671.6,290.3V334.0M1663.9,299.2V339.0M1668.5,297.2V332.0M1676.3,304.2V345.9M1664.7,268.4V299.2M1658.7,270.4V301.2M1707.2,317.8V350.9M1743.1,318.1V353.2M1763.1,340.0V382.7M1771.6,349.6V395.6M1787.9,356.8V391.1M1811.9,372.0V411.9M1816.5,374.7V413.0M1771.6,377.7V419.9M1779.4,385.7V421.6M1823.2,422.4V454.0M1826.9,422.9V462.7M1857.2,450.6V486.0M1870.0,476.5V501.1M1941.3,523.5V556.7M1967.7,551.5V597.7M1996.8,569.5V614.3M2028.8,572.8V616.9" stroke="#ff7f0e" stroke-width="3.9" fill="none"/>
<path d="M1251.7,87.9h24.4M1251.7,117.9h24.4M1243.7,97.3h24.4M1243.7,132.6h24.4M1257.0,121.4h24.4M1257.0,158.0h24.4M1266.2,121.4h24.4M1266.2,151.2h24.4M1403.8,102.6h24.4M1403.8,132.0h24.4M1401.1,116.9h24.4M1401.1,146.4h24.4M1418.2,108.0h24.4M1418.2,137.4h24.4M1411.9,112.4h24.4M1411.9,141.8h24.4M1421.0,116.9h24.4M1421.0,146.4h24.4M1408.3,109.7h24.4M1408.3,139.2h24.4M1425.5,124.2h24.4M1425.5,153.6h24.4M1422.8,134.9h24.4M1422.8,164.3h24.4M1429.1,134.0h24.4M1429.1,163.4h24.4M1431.8,140.3h24.4M1431.8,169.7h24.4M1432.7,145.6h24.4M1432.7,175.1h24.4M1406.5,145.6h24.4M1406.5,175.1h24.4M1409.2,152.9h24.4M1409.2,183.7h24.4M1413.7,159.5h24.4M1413.7,197.2h24.4M1419.1,164.9h24.4M1419.1,197.2h24.4M1426.4,166.7h24.4M1426.4,202.5h24.4M1429.1,157.6h24.4M1429.1,190.9h24.4M1433.2,152.9h24.4M1433.2,182.3h24.4M1404.7,149.3h24.4M1404.7,178.7h24.4M1416.4,121.5h24.4M1416.4,150.9h24.4M1411.0,155.6h24.4M1411.0,185.0h24.4M1414.6,144.2h24.4M1414.6,173.6h24.4M1424.9,155.6h24.4M1424.9,185.0h24.4M1487.8,125.7h24.4M1487.8,154.8h24.4M1486.8,140.3h24.4M1486.8,169.1h24.4M1484.6,146.4h24.4M1484.6,175.8h24.4M1490.1,151.9h24.4M1490.1,181.3h24.4M1484.1,158.3h24.4M1484.1,187.7h24.4M1489.1,163.8h24.4M1489.1,193.2h24.4M1491.6,169.8h24.4M1491.6,199.2h24.4M1486.6,174.7h24.4M1486.6,204.8h24.4M1490.6,179.7h24.4M1490.6,212.3h24.4M1488.6,185.2h24.4M1488.6,218.5h24.4M1492.6,175.2h24.4M1492.6,204.6h24.4M1531.1,143.9h24.4M1531.1,174.9h24.4M1535.1,145.6h24.4M1535.1,175.5h24.4M1528.6,150.0h24.4M1528.6,181.5h24.4M1534.1,158.1h24.4M1534.1,187.9h24.4M1529.6,164.6h24.4M1529.6,194.4h24.4M1536.6,170.1h24.4M1536.6,199.9h24.4M1531.6,176.0h24.4M1531.6,205.8h24.4M1528.1,182.0h24.4M1528.1,211.8h24.4M1535.1,187.4h24.4M1535.1,217.3h24.4M1530.6,193.4h24.4M1530.6,223.2h24.4M1535.6,198.4h24.4M1535.6,225.7h24.4M1532.8,204.3h24.4M1532.8,240.0h24.4M1537.6,180.0h24.4M1537.6,209.8h24.4M1564.2,160.5h24.4M1564.2,190.9h24.4M1563.1,178.5h24.4M1563.1,208.3h24.4M1566.6,184.5h24.4M1566.6,214.3h24.4M1561.1,190.4h24.4M1561.1,220.2h24.4M1565.6,196.4h24.4M1565.6,226.2h24.4M1562.1,202.3h24.4M1562.1,232.2h24.4M1567.6,208.3h24.4M1567.6,238.1h24.4M1562.6,214.3h24.4M1562.6,244.1h24.4M1566.1,220.2h24.4M1566.1,250.0h24.4M1561.6,225.7h24.4M1561.6,255.5h24.4M1564.6,231.7h24.4M1564.6,263.7h24.4M1568.6,193.9h24.4M1568.6,223.7h24.4M1586.6,140.6h24.4M1586.6,170.5h24.4M1586.5,175.3h24.4M1586.5,195.7h24.4M1586.1,186.5h24.4M1586.1,214.3h24.4M1589.1,191.4h24.4M1589.1,221.2h24.4M1585.1,197.4h24.4M1585.1,227.2h24.4M1590.1,203.3h24.4M1590.1,233.1h24.4M1587.1,209.3h24.4M1587.1,239.1h24.4M1591.6,215.3h24.4M1591.6,245.1h24.4M1588.6,221.2h24.4M1588.6,251.0h24.4M1592.6,227.2h24.4M1592.6,257.0h24.4M1589.6,233.6h24.4M1589.6,263.5h24.4M1593.1,239.6h24.4M1593.1,270.4h24.4M1592.1,247.1h24.4M1592.1,280.9h24.4M1639.4,216.7h24.4M1639.4,246.1h24.4M1664.4,224.4h24.4M1664.4,255.5h24.4M1629.3,244.6h24.4M1629.3,278.3h24.4M1666.4,242.6h24.4M1666.4,271.4h24.4M1686.0,249.4h24.4M1686.0,280.3h24.4M1695.0,275.6h24.4M1695.0,310.2h24.4M1686.5,285.3h24.4M1686.5,317.8h24.4M1685.7,297.2h24.4M1685.7,332.0h24.4M1640.8,234.6h24.4M1640.8,263.5h24.4M1643.9,249.5h24.4M1643.9,279.4h24.4M1643.9,261.5h24.4M1643.9,292.3h24.4M1650.5,255.5h24.4M1650.5,286.3h24.4M1639.4,280.3h24.4M1639.4,319.1h24.4M1647.5,278.4h24.4M1647.5,311.1h24.4M1659.4,276.4h24.4M1659.4,308.2h24.4M1667.2,279.4h24.4M1667.2,312.1h24.4M1659.4,290.3h24.4M1659.4,334.0h24.4M1651.7,299.2h24.4M1651.7,339.0h24.4M1656.3,297.2h24.4M1656.3,332.0h24.4M1664.1,304.2h24.4M1664.1,345.9h24.4M1652.5,268.4h24.4M1652.5,299.2h24.4M1646.5,270.4h24.4M1646.5,301.2h24.4M1695.0,317.8h24.4M1695.0,350.9h24.4M1730.9,318.1h24.4M1730.9,353.2h24.4M1750.9,340.0h24.4M1750.9,382.7h24.4M1759.4,349.6h24.4M1759.4,395.6h24.4M1775.7,356.8h24.4M1775.7,391.1h24.4M1799.7,372.0h24.4M1799.7,411.9h24.4M1804.3,374.7h24.4M1804.3,413.0h24.4M1759.4,377.7h24.4M1759.4,419.9h24.4M1767.2,385.7h24.4M1767.2,421.6h24.4M1811.0,422.4h24.4M1811.0,454.0h24.4M1814.7,422.9h24.4M1814.7,462.7h24.4M1845.0,450.6h24.4M1845.0,486.0h24.4M1857.8,476.5h24.4M1857.8,501.1h24.4M1929.1,523.5h24.4M1929.1,556.7h24.4M1955.5,551.5h24.4M1955.5,597.7h24.4M1984.6,569.5h24.4M1984.6,614.3h24.4M2016.6,572.8h24.4M2016.6,616.9h24.4" stroke="#1f77b4" stroke-width="2.8" fill="none"/>
<path d="M1256.6,77.4V119.4M1273.2,80.9V115.9M1267.4,98.8V134.8M1291.6,94.0V130.0M1309.6,82.4V114.4M1285.8,116.2V152.2M1280.0,133.6V169.6M1303.3,115.3V151.3M1316.8,101.7V137.7M1325.5,103.6V139.6M1334.2,121.1V157.1M1343.9,115.3V151.3M1345.8,139.5V175.5M1352.6,148.1V186.1M1364.2,130.7V166.7M1370.0,87.2V123.2M1382.2,82.8V119.8M1376.8,110.4V146.4M1394.2,138.5V174.5M1400.1,121.1V157.1M1388.4,160.8V196.8M1406.4,167.5V203.5M1424.3,107.5V143.5M1442.7,102.2V135.2M1436.8,116.2V152.2M1461.0,108.0V143.0M1431.0,137.5V173.5M1452.3,126.9V162.9M1448.5,136.5V172.5M1471.7,135.6V171.6M1466.9,165.6V201.6M1413.6,128.8V164.8M1491.0,146.2V182.2M1478.4,173.3V209.3M1504.5,158.8V194.8M1496.8,163.6V199.6M1509.3,198.4V234.4M1514.2,170.4V206.4M1523.9,170.4V206.4M1539.3,157.8V193.8M1551.9,167.5V203.5M1545.2,193.6V229.6M1576.1,173.3V209.3M1570.3,180.1V216.1M1583.9,189.7V225.7M1606.1,175.8V208.8M1611.9,191.7V227.7M1591.6,205.2V241.2M1629.3,199.6V237.2M1647.7,202.3V236.3M1581.9,206.2V242.2M1532.9,171.0V207.0M1567.7,184.6V220.6M1599.7,227.2V263.2M1521.3,240.7V274.7M1621.9,215.5V251.5M1633.5,219.4V255.4M1642.2,221.3V257.3M1653.9,227.2V263.2M1618.1,227.2V263.2M1660.6,251.3V287.3M1679.0,244.6V280.6M1666.4,269.7V305.7M1681.9,265.9V301.9M1691.6,265.9V301.9M1689.7,254.3V290.3M1703.2,291.0V327.0M1563.9,179.1V215.1M1631.6,229.4V265.4M1674.2,271.0V307.0M1683.9,275.9V311.9M1714.8,295.2V331.2M1695.5,301.0V337.0M1745.8,308.4V345.2M1723.9,319.7V355.7M1720.0,336.2V372.2M1732.6,329.4V365.4M1739.3,341.0V377.0M1751.0,308.7V345.5M1756.8,349.7V389.7M1764.5,334.3V370.3M1771.3,336.2V372.2M1778.1,352.6V388.6M1787.7,356.5V392.5M1799.3,329.0V362.0M1817.7,345.9V377.9M1793.5,386.5V422.5M1803.2,393.3V429.3M1823.5,389.4V425.4M1840.0,398.1V434.1M1853.5,394.3V426.3M1828.1,421.0V457.0M1846.4,436.5V472.5M1858.1,449.1V485.1M1872.6,440.3V478.3M1877.4,479.1V515.1M1886.1,485.9V521.9M1893.9,491.7V527.7M1890.0,505.2V541.2M1907.4,472.5V498.5M1903.5,478.1V514.1M1932.6,483.0V517.0M1921.0,509.1V545.1M1968.4,503.8V540.6M1814.5,406.5V442.5M1920.0,514.9V550.9M1963.5,527.5V563.5M1938.4,543.9V579.9M1948.1,542.0V578.0M1914.2,554.8V590.4M1983.9,532.3V568.3M1979.0,538.1V574.1M1992.6,549.7V585.7M1974.2,570.7V605.5M2011.0,559.4V595.4M2021.6,569.1V605.1M2005.1,592.3V628.3M1998.4,605.5V642.3M2029.3,615.2V644.2M2015.8,582.6V618.6" stroke="#ffff00" stroke-width="3.9" fill="none"/>
<path d="M1244.4,77.4h24.4M1244.4,119.4h24.4M1261.0,80.9h24.4M1261.0,115.9h24.4M1255.2,98.8h24.4M1255.2,134.8h24.4M1279.4,94.0h24.4M1279.4,130.0h24.4M1297.4,82.4h24.4M1297.4,114.4h24.4M1273.6,116.2h24.4M1273.6,152.2h24.4M1267.8,133.6h24.4M1267.8,169.6h24.4M1291.1,115.3h24.4M1291.1,151.3h24.4M1304.6,101.7h24.4M1304.6,137.7h24.4M1313.3,103.6h24.4M1313.3,139.6h24.4M1322.0,121.1h24.4M1322.0,157.1h24.4M1331.7,115.3h24.4M1331.7,151.3h24.4M1333.6,139.5h24.4M1333.6,175.5h24.4M1340.4,148.1h24.4M1340.4,186.1h24.4M1352.0,130.7h24.4M1352.0,166.7h24.4M1357.8,87.2h24.4M1357.8,123.2h24.4M1370.0,82.8h24.4M1370.0,119.8h24.4M1364.6,110.4h24.4M1364.6,146.4h24.4M1382.0,138.5h24.4M1382.0,174.5h24.4M1387.9,121.1h24.4M1387.9,157.1h24.4M1376.2,160.8h24.4M1376.2,196.8h24.4M1394.2,167.5h24.4M1394.2,203.5h24.4M1412.1,107.5h24.4M1412.1,143.5h24.4M1430.5,102.2h24.4M1430.5,135.2h24.4M1424.6,116.2h24.4M1424.6,152.2h24.4M1448.8,108.0h24.4M1448.8,143.0h24.4M1418.8,137.5h24.4M1418.8,173.5h24.4M1440.1,126.9h24.4M1440.1,162.9h24.4M1436.3,136.5h24.4M1436.3,172.5h24.4M1459.5,135.6h24.4M1459.5,171.6h24.4M1454.7,165.6h24.4M1454.7,201.6h24.4M1401.4,128.8h24.4M1401.4,164.8h24.4M1478.8,146.2h24.4M1478.8,182.2h24.4M1466.2,173.3h24.4M1466.2,209.3h24.4M1492.3,158.8h24.4M1492.3,194.8h24.4M1484.6,163.6h24.4M1484.6,199.6h24.4M1497.1,198.4h24.4M1497.1,234.4h24.4M1502.0,170.4h24.4M1502.0,206.4h24.4M1511.7,170.4h24.4M1511.7,206.4h24.4M1527.1,157.8h24.4M1527.1,193.8h24.4M1539.7,167.5h24.4M1539.7,203.5h24.4M1533.0,193.6h24.4M1533.0,229.6h24.4M1563.9,173.3h24.4M1563.9,209.3h24.4M1558.1,180.1h24.4M1558.1,216.1h24.4M1571.7,189.7h24.4M1571.7,225.7h24.4M1593.9,175.8h24.4M1593.9,208.8h24.4M1599.7,191.7h24.4M1599.7,227.7h24.4M1579.4,205.2h24.4M1579.4,241.2h24.4M1617.1,199.6h24.4M1617.1,237.2h24.4M1635.5,202.3h24.4M1635.5,236.3h24.4M1569.7,206.2h24.4M1569.7,242.2h24.4M1520.7,171.0h24.4M1520.7,207.0h24.4M1555.5,184.6h24.4M1555.5,220.6h24.4M1587.5,227.2h24.4M1587.5,263.2h24.4M1509.1,240.7h24.4M1509.1,274.7h24.4M1609.7,215.5h24.4M1609.7,251.5h24.4M1621.3,219.4h24.4M1621.3,255.4h24.4M1630.0,221.3h24.4M1630.0,257.3h24.4M1641.7,227.2h24.4M1641.7,263.2h24.4M1605.9,227.2h24.4M1605.9,263.2h24.4M1648.4,251.3h24.4M1648.4,287.3h24.4M1666.8,244.6h24.4M1666.8,280.6h24.4M1654.2,269.7h24.4M1654.2,305.7h24.4M1669.7,265.9h24.4M1669.7,301.9h24.4M1679.4,265.9h24.4M1679.4,301.9h24.4M1677.5,254.3h24.4M1677.5,290.3h24.4M1691.0,291.0h24.4M1691.0,327.0h24.4M1551.7,179.1h24.4M1551.7,215.1h24.4M1619.4,229.4h24.4M1619.4,265.4h24.4M1662.0,271.0h24.4M1662.0,307.0h24.4M1671.7,275.9h24.4M1671.7,311.9h24.4M1702.6,295.2h24.4M1702.6,331.2h24.4M1683.3,301.0h24.4M1683.3,337.0h24.4M1733.6,308.4h24.4M1733.6,345.2h24.4M1711.7,319.7h24.4M1711.7,355.7h24.4M1707.8,336.2h24.4M1707.8,372.2h24.4M1720.4,329.4h24.4M1720.4,365.4h24.4M1727.1,341.0h24.4M1727.1,377.0h24.4M1738.8,308.7h24.4M1738.8,345.5h24.4M1744.6,349.7h24.4M1744.6,389.7h24.4M1752.3,334.3h24.4M1752.3,370.3h24.4M1759.1,336.2h24.4M1759.1,372.2h24.4M1765.9,352.6h24.4M1765.9,388.6h24.4M1775.5,356.5h24.4M1775.5,392.5h24.4M1787.1,329.0h24.4M1787.1,362.0h24.4M1805.5,345.9h24.4M1805.5,377.9h24.4M1781.3,386.5h24.4M1781.3,422.5h24.4M1791.0,393.3h24.4M1791.0,429.3h24.4M1811.3,389.4h24.4M1811.3,425.4h24.4M1827.8,398.1h24.4M1827.8,434.1h24.4M1841.3,394.3h24.4M1841.3,426.3h24.4M1815.9,421.0h24.4M1815.9,457.0h24.4M1834.2,436.5h24.4M1834.2,472.5h24.4M1845.9,449.1h24.4M1845.9,485.1h24.4M1860.4,440.3h24.4M1860.4,478.3h24.4M1865.2,479.1h24.4M1865.2,515.1h24.4M1873.9,485.9h24.4M1873.9,521.9h24.4M1881.7,491.7h24.4M1881.7,527.7h24.4M1877.8,505.2h24.4M1877.8,541.2h24.4M1895.2,472.5h24.4M1895.2,498.5h24.4M1891.3,478.1h24.4M1891.3,514.1h24.4M1920.4,483.0h24.4M1920.4,517.0h24.4M1908.8,509.1h24.4M1908.8,545.1h24.4M1956.2,503.8h24.4M1956.2,540.6h24.4M1802.3,406.5h24.4M1802.3,442.5h24.4M1907.8,514.9h24.4M1907.8,550.9h24.4M1951.3,527.5h24.4M1951.3,563.5h24.4M1926.2,543.9h24.4M1926.2,579.9h24.4M1935.9,542.0h24.4M1935.9,578.0h24.4M1902.0,554.8h24.4M1902.0,590.4h24.4M1971.7,532.3h24.4M1971.7,568.3h24.4M1966.8,538.1h24.4M1966.8,574.1h24.4M1980.4,549.7h24.4M1980.4,585.7h24.4M1962.0,570.7h24.4M1962.0,605.5h24.4M1998.8,559.4h24.4M1998.8,595.4h24.4M2009.4,569.1h24.4M2009.4,605.1h24.4M1992.9,592.3h24.4M1992.9,628.3h24.4M1986.2,605.5h24.4M1986.2,642.3h24.4M2017.1,615.2h24.4M2017.1,644.2h24.4M2003.6,582.6h24.4M2003.6,618.6h24.4" stroke="#ffff00" stroke-width="2.8" fill="none"/>
<path d="M1255.3,102.6a8.6,8.6 0 1,0 17.2,0a8.6,8.6 0 1,0 -17.2,0M1247.3,112.7a8.6,8.6 0 1,0 17.2,0a8.6,8.6 0 1,0 -17.2,0M1260.6,138.4a8.6,8.6 0 1,0 17.2,0a8.6,8.6 0 1,0 -17.2,0M1269.8,135.0a8.6,8.6 0 1,0 17.2,0a8.6,8.6 0 1,0 -17.2,0M1407.4,117.3a8.6,8.6 0 1,0 17.2,0a8.6,8.6 0 1,0 -17.2,0M1404.7,131.7a8.6,8.6 0 1,0 17.2,0a8.6,8.6 0 1,0 -17.2,0M1421.8,122.7a8.6,8.6 0 1,0 17.2,0a8.6,8.6 0 1,0 -17.2,0M1415.5,127.1a8.6,8.6 0 1,0 17.2,0a8.6,8.6 0 1,0 -17.2,0M1424.6,131.7a8.6,8.6 0 1,0 17.2,0a8.6,8.6 0 1,0 -17.2,0M1411.9,124.5a8.6,8.6 0 1,0 17.2,0a8.6,8.6 0 1,0 -17.2,0M1429.1,138.9a8.6,8.6 0 1,0 17.2,0a8.6,8.6 0 1,0 -17.2,0M1426.4,149.6a8.6,8.6 0 1,0 17.2,0a8.6,8.6 0 1,0 -17.2,0M1432.7,148.7a8.6,8.6 0 1,0 17.2,0a8.6,8.6 0 1,0 -17.2,0M1435.4,155.0a8.6,8.6 0 1,0 17.2,0a8.6,8.6 0 1,0 -17.2,0M1436.3,160.4a8.6,8.6 0 1,0 17.2,0a8.6,8.6 0 1,0 -17.2,0M1410.1,160.4a8.6,8.6 0 1,0 17.2,0a8.6,8.6 0 1,0 -17.2,0M1412.8,167.6a8.6,8.6 0 1,0 17.2,0a8.6,8.6 0 1,0 -17.2,0M1417.3,174.7a8.6,8.6 0 1,0 17.2,0a8.6,8.6 0 1,0 -17.2,0M1422.7,180.1a8.6,8.6 0 1,0 17.2,0a8.6,8.6 0 1,0 -17.2,0M1430.0,181.9a8.6,8.6 0 1,0 17.2,0a8.6,8.6 0 1,0 -17.2,0M1432.7,172.9a8.6,8.6 0 1,0 17.2,0a8.6,8.6 0 1,0 -17.2,0M1436.8,167.6a8.6,8.6 0 1,0 17.2,0a8.6,8.6 0 1,0 -17.2,0M1408.3,164.0a8.6,8.6 0 1,0 17.2,0a8.6,8.6 0 1,0 -17.2,0M1420.0,136.2a8.6,8.6 0 1,0 17.2,0a8.6,8.6 0 1,0 -17.2,0M1414.6,170.3a8.6,8.6 0 1,0 17.2,0a8.6,8.6 0 1,0 -17.2,0M1418.2,158.9a8.6,8.6 0 1,0 17.2,0a8.6,8.6 0 1,0 -17.2,0M1428.5,170.3a8.6,8.6 0 1,0 17.2,0a8.6,8.6 0 1,0 -17.2,0M1491.4,140.3a8.6,8.6 0 1,0 17.2,0a8.6,8.6 0 1,0 -17.2,0M1490.4,154.7a8.6,8.6 0 1,0 17.2,0a8.6,8.6 0 1,0 -17.2,0M1488.2,161.1a8.6,8.6 0 1,0 17.2,0a8.6,8.6 0 1,0 -17.2,0M1493.7,166.6a8.6,8.6 0 1,0 17.2,0a8.6,8.6 0 1,0 -17.2,0M1487.7,173.0a8.6,8.6 0 1,0 17.2,0a8.6,8.6 0 1,0 -17.2,0M1492.7,178.5a8.6,8.6 0 1,0 17.2,0a8.6,8.6 0 1,0 -17.2,0M1495.2,184.5a8.6,8.6 0 1,0 17.2,0a8.6,8.6 0 1,0 -17.2,0M1490.2,189.4a8.6,8.6 0 1,0 17.2,0a8.6,8.6 0 1,0 -17.2,0M1494.2,194.4a8.6,8.6 0 1,0 17.2,0a8.6,8.6 0 1,0 -17.2,0M1492.2,199.9a8.6,8.6 0 1,0 17.2,0a8.6,8.6 0 1,0 -17.2,0M1496.2,189.9a8.6,8.6 0 1,0 17.2,0a8.6,8.6 0 1,0 -17.2,0M1534.7,160.0a8.6,8.6 0 1,0 17.2,0a8.6,8.6 0 1,0 -17.2,0M1538.7,160.6a8.6,8.6 0 1,0 17.2,0a8.6,8.6 0 1,0 -17.2,0M1532.2,166.6a8.6,8.6 0 1,0 17.2,0a8.6,8.6 0 1,0 -17.2,0M1537.7,173.0a8.6,8.6 0 1,0 17.2,0a8.6,8.6 0 1,0 -17.2,0M1533.2,179.5a8.6,8.6 0 1,0 17.2,0a8.6,8.6 0 1,0 -17.2,0M1540.2,185.0a8.6,8.6 0 1,0 17.2,0a8.6,8.6 0 1,0 -17.2,0M1535.2,190.9a8.6,8.6 0 1,0 17.2,0a8.6,8.6 0 1,0 -17.2,0M1531.7,196.9a8.6,8.6 0 1,0 17.2,0a8.6,8.6 0 1,0 -17.2,0M1538.7,202.3a8.6,8.6 0 1,0 17.2,0a8.6,8.6 0 1,0 -17.2,0M1534.2,208.3a8.6,8.6 0 1,0 17.2,0a8.6,8.6 0 1,0 -17.2,0M1539.2,213.3a8.6,8.6 0 1,0 17.2,0a8.6,8.6 0 1,0 -17.2,0M1536.4,219.2a8.6,8.6 0 1,0 17.2,0a8.6,8.6 0 1,0 -17.2,0M1541.2,194.9a8.6,8.6 0 1,0 17.2,0a8.6,8.6 0 1,0 -17.2,0M1567.8,175.7a8.6,8.6 0 1,0 17.2,0a8.6,8.6 0 1,0 -17.2,0M1566.7,193.4a8.6,8.6 0 1,0 17.2,0a8.6,8.6 0 1,0 -17.2,0M1570.2,199.4a8.6,8.6 0 1,0 17.2,0a8.6,8.6 0 1,0 -17.2,0M1564.7,205.3a8.6,8.6 0 1,0 17.2,0a8.6,8.6 0 1,0 -17.2,0M1569.2,211.3a8.6,8.6 0 1,0 17.2,0a8.6,8.6 0 1,0 -17.2,0M1565.7,217.3a8.6,8.6 0 1,0 17.2,0a8.6,8.6 0 1,0 -17.2,0M1571.2,223.2a8.6,8.6 0 1,0 17.2,0a8.6,8.6 0 1,0 -17.2,0M1566.2,229.2a8.6,8.6 0 1,0 17.2,0a8.6,8.6 0 1,0 -17.2,0M1569.7,235.1a8.6,8.6 0 1,0 17.2,0a8.6,8.6 0 1,0 -17.2,0M1565.2,240.6a8.6,8.6 0 1,0 17.2,0a8.6,8.6 0 1,0 -17.2,0M1568.2,246.6a8.6,8.6 0 1,0 17.2,0a8.6,8.6 0 1,0 -17.2,0M1572.2,208.8a8.6,8.6 0 1,0 17.2,0a8.6,8.6 0 1,0 -17.2,0M1590.2,155.9a8.6,8.6 0 1,0 17.2,0a8.6,8.6 0 1,0 -17.2,0M1590.1,185.3a8.6,8.6 0 1,0 17.2,0a8.6,8.6 0 1,0 -17.2,0M1589.7,200.4a8.6,8.6 0 1,0 17.2,0a8.6,8.6 0 1,0 -17.2,0M1592.7,206.3a8.6,8.6 0 1,0 17.2,0a8.6,8.6 0 1,0 -17.2,0M1588.7,212.3a8.6,8.6 0 1,0 17.2,0a8.6,8.6 0 1,0 -17.2,0M1593.7,218.2a8.6,8.6 0 1,0 17.2,0a8.6,8.6 0 1,0 -17.2,0M1590.7,224.2a8.6,8.6 0 1,0 17.2,0a8.6,8.6 0 1,0 -17.2,0M1595.2,230.2a8.6,8.6 0 1,0 17.2,0a8.6,8.6 0 1,0 -17.2,0M1592.2,236.1a8.6,8.6 0 1,0 17.2,0a8.6,8.6 0 1,0 -17.2,0M1596.2,242.1a8.6,8.6 0 1,0 17.2,0a8.6,8.6 0 1,0 -17.2,0M1593.2,248.5a8.6,8.6 0 1,0 17.2,0a8.6,8.6 0 1,0 -17.2,0M1596.7,254.5a8.6,8.6 0 1,0 17.2,0a8.6,8.6 0 1,0 -17.2,0M1595.7,262.0a8.6,8.6 0 1,0 17.2,0a8.6,8.6 0 1,0 -17.2,0M1643.0,231.3a8.6,8.6 0 1,0 17.2,0a8.6,8.6 0 1,0 -17.2,0M1668.0,239.8a8.6,8.6 0 1,0 17.2,0a8.6,8.6 0 1,0 -17.2,0M1632.9,261.3a8.6,8.6 0 1,0 17.2,0a8.6,8.6 0 1,0 -17.2,0M1670.0,256.7a8.6,8.6 0 1,0 17.2,0a8.6,8.6 0 1,0 -17.2,0M1689.6,264.6a8.6,8.6 0 1,0 17.2,0a8.6,8.6 0 1,0 -17.2,0M1698.6,292.9a8.6,8.6 0 1,0 17.2,0a8.6,8.6 0 1,0 -17.2,0M1690.1,301.2a8.6,8.6 0 1,0 17.2,0a8.6,8.6 0 1,0 -17.2,0M1689.3,313.6a8.6,8.6 0 1,0 17.2,0a8.6,8.6 0 1,0 -17.2,0M1644.4,248.9a8.6,8.6 0 1,0 17.2,0a8.6,8.6 0 1,0 -17.2,0M1647.5,264.4a8.6,8.6 0 1,0 17.2,0a8.6,8.6 0 1,0 -17.2,0M1647.5,276.4a8.6,8.6 0 1,0 17.2,0a8.6,8.6 0 1,0 -17.2,0M1654.1,270.4a8.6,8.6 0 1,0 17.2,0a8.6,8.6 0 1,0 -17.2,0M1643.0,296.6a8.6,8.6 0 1,0 17.2,0a8.6,8.6 0 1,0 -17.2,0M1651.1,294.3a8.6,8.6 0 1,0 17.2,0a8.6,8.6 0 1,0 -17.2,0M1663.0,292.1a8.6,8.6 0 1,0 17.2,0a8.6,8.6 0 1,0 -17.2,0M1670.8,295.1a8.6,8.6 0 1,0 17.2,0a8.6,8.6 0 1,0 -17.2,0M1663.0,307.5a8.6,8.6 0 1,0 17.2,0a8.6,8.6 0 1,0 -17.2,0M1655.3,316.7a8.6,8.6 0 1,0 17.2,0a8.6,8.6 0 1,0 -17.2,0M1659.9,313.9a8.6,8.6 0 1,0 17.2,0a8.6,8.6 0 1,0 -17.2,0M1667.7,321.6a8.6,8.6 0 1,0 17.2,0a8.6,8.6 0 1,0 -17.2,0M1656.1,283.3a8.6,8.6 0 1,0 17.2,0a8.6,8.6 0 1,0 -17.2,0M1650.1,285.3a8.6,8.6 0 1,0 17.2,0a8.6,8.6 0 1,0 -17.2,0M1698.6,332.4a8.6,8.6 0 1,0 17.2,0a8.6,8.6 0 1,0 -17.2,0M1734.5,333.1a8.6,8.6 0 1,0 17.2,0a8.6,8.6 0 1,0 -17.2,0M1754.5,361.9a8.6,8.6 0 1,0 17.2,0a8.6,8.6 0 1,0 -17.2,0M1763.0,372.7a8.6,8.6 0 1,0 17.2,0a8.6,8.6 0 1,0 -17.2,0M1779.3,372.0a8.6,8.6 0 1,0 17.2,0a8.6,8.6 0 1,0 -17.2,0M1803.3,389.6a8.6,8.6 0 1,0 17.2,0a8.6,8.6 0 1,0 -17.2,0M1807.9,391.1a8.6,8.6 0 1,0 17.2,0a8.6,8.6 0 1,0 -17.2,0M1763.0,398.9a8.6,8.6 0 1,0 17.2,0a8.6,8.6 0 1,0 -17.2,0M1770.8,403.4a8.6,8.6 0 1,0 17.2,0a8.6,8.6 0 1,0 -17.2,0M1814.6,436.8a8.6,8.6 0 1,0 17.2,0a8.6,8.6 0 1,0 -17.2,0M1818.3,439.1a8.6,8.6 0 1,0 17.2,0a8.6,8.6 0 1,0 -17.2,0M1848.6,466.3a8.6,8.6 0 1,0 17.2,0a8.6,8.6 0 1,0 -17.2,0M1861.4,487.9a8.6,8.6 0 1,0 17.2,0a8.6,8.6 0 1,0 -17.2,0M1932.7,538.5a8.6,8.6 0 1,0 17.2,0a8.6,8.6 0 1,0 -17.2,0M1959.1,571.3a8.6,8.6 0 1,0 17.2,0a8.6,8.6 0 1,0 -17.2,0M1988.2,588.6a8.6,8.6 0 1,0 17.2,0a8.6,8.6 0 1,0 -17.2,0M2020.2,591.7a8.6,8.6 0 1,0 17.2,0a8.6,8.6 0 1,0 -17.2,0" fill="#1f77b4"/>
<path d="M1248.0,98.4a8.6,8.6 0 1,0 17.2,0a8.6,8.6 0 1,0 -17.2,0M1264.6,98.4a8.6,8.6 0 1,0 17.2,0a8.6,8.6 0 1,0 -17.2,0M1258.8,116.8a8.6,8.6 0 1,0 17.2,0a8.6,8.6 0 1,0 -17.2,0M1283.0,112.0a8.6,8.6 0 1,0 17.2,0a8.6,8.6 0 1,0 -17.2,0M1301.0,98.4a8.6,8.6 0 1,0 17.2,0a8.6,8.6 0 1,0 -17.2,0M1277.2,134.2a8.6,8.6 0 1,0 17.2,0a8.6,8.6 0 1,0 -17.2,0M1271.4,151.6a8.6,8.6 0 1,0 17.2,0a8.6,8.6 0 1,0 -17.2,0M1294.7,133.3a8.6,8.6 0 1,0 17.2,0a8.6,8.6 0 1,0 -17.2,0M1308.2,119.7a8.6,8.6 0 1,0 17.2,0a8.6,8.6 0 1,0 -17.2,0M1316.9,121.6a8.6,8.6 0 1,0 17.2,0a8.6,8.6 0 1,0 -17.2,0M1325.6,139.1a8.6,8.6 0 1,0 17.2,0a8.6,8.6 0 1,0 -17.2,0M1335.3,133.3a8.6,8.6 0 1,0 17.2,0a8.6,8.6 0 1,0 -17.2,0M1337.2,157.5a8.6,8.6 0 1,0 17.2,0a8.6,8.6 0 1,0 -17.2,0M1344.0,167.1a8.6,8.6 0 1,0 17.2,0a8.6,8.6 0 1,0 -17.2,0M1355.6,148.7a8.6,8.6 0 1,0 17.2,0a8.6,8.6 0 1,0 -17.2,0M1361.4,105.2a8.6,8.6 0 1,0 17.2,0a8.6,8.6 0 1,0 -17.2,0M1373.6,101.3a8.6,8.6 0 1,0 17.2,0a8.6,8.6 0 1,0 -17.2,0M1368.2,128.4a8.6,8.6 0 1,0 17.2,0a8.6,8.6 0 1,0 -17.2,0M1385.6,156.5a8.6,8.6 0 1,0 17.2,0a8.6,8.6 0 1,0 -17.2,0M1391.5,139.1a8.6,8.6 0 1,0 17.2,0a8.6,8.6 0 1,0 -17.2,0M1379.8,178.8a8.6,8.6 0 1,0 17.2,0a8.6,8.6 0 1,0 -17.2,0M1397.8,185.5a8.6,8.6 0 1,0 17.2,0a8.6,8.6 0 1,0 -17.2,0M1415.7,125.5a8.6,8.6 0 1,0 17.2,0a8.6,8.6 0 1,0 -17.2,0M1434.1,118.7a8.6,8.6 0 1,0 17.2,0a8.6,8.6 0 1,0 -17.2,0M1428.2,134.2a8.6,8.6 0 1,0 17.2,0a8.6,8.6 0 1,0 -17.2,0M1452.4,125.5a8.6,8.6 0 1,0 17.2,0a8.6,8.6 0 1,0 -17.2,0M1422.4,155.5a8.6,8.6 0 1,0 17.2,0a8.6,8.6 0 1,0 -17.2,0M1443.7,144.9a8.6,8.6 0 1,0 17.2,0a8.6,8.6 0 1,0 -17.2,0M1439.9,154.5a8.6,8.6 0 1,0 17.2,0a8.6,8.6 0 1,0 -17.2,0M1463.1,153.6a8.6,8.6 0 1,0 17.2,0a8.6,8.6 0 1,0 -17.2,0M1458.3,183.6a8.6,8.6 0 1,0 17.2,0a8.6,8.6 0 1,0 -17.2,0M1405.0,146.8a8.6,8.6 0 1,0 17.2,0a8.6,8.6 0 1,0 -17.2,0M1482.4,164.2a8.6,8.6 0 1,0 17.2,0a8.6,8.6 0 1,0 -17.2,0M1469.8,191.3a8.6,8.6 0 1,0 17.2,0a8.6,8.6 0 1,0 -17.2,0M1495.9,176.8a8.6,8.6 0 1,0 17.2,0a8.6,8.6 0 1,0 -17.2,0M1488.2,181.6a8.6,8.6 0 1,0 17.2,0a8.6,8.6 0 1,0 -17.2,0M1500.7,216.4a8.6,8.6 0 1,0 17.2,0a8.6,8.6 0 1,0 -17.2,0M1505.6,188.4a8.6,8.6 0 1,0 17.2,0a8.6,8.6 0 1,0 -17.2,0M1515.3,188.4a8.6,8.6 0 1,0 17.2,0a8.6,8.6 0 1,0 -17.2,0M1530.7,175.8a8.6,8.6 0 1,0 17.2,0a8.6,8.6 0 1,0 -17.2,0M1543.3,185.5a8.6,8.6 0 1,0 17.2,0a8.6,8.6 0 1,0 -17.2,0M1536.6,211.6a8.6,8.6 0 1,0 17.2,0a8.6,8.6 0 1,0 -17.2,0M1567.5,191.3a8.6,8.6 0 1,0 17.2,0a8.6,8.6 0 1,0 -17.2,0M1561.7,198.1a8.6,8.6 0 1,0 17.2,0a8.6,8.6 0 1,0 -17.2,0M1575.3,207.7a8.6,8.6 0 1,0 17.2,0a8.6,8.6 0 1,0 -17.2,0M1597.5,192.3a8.6,8.6 0 1,0 17.2,0a8.6,8.6 0 1,0 -17.2,0M1603.3,209.7a8.6,8.6 0 1,0 17.2,0a8.6,8.6 0 1,0 -17.2,0M1583.0,223.2a8.6,8.6 0 1,0 17.2,0a8.6,8.6 0 1,0 -17.2,0M1620.7,218.4a8.6,8.6 0 1,0 17.2,0a8.6,8.6 0 1,0 -17.2,0M1639.1,219.3a8.6,8.6 0 1,0 17.2,0a8.6,8.6 0 1,0 -17.2,0M1573.3,224.2a8.6,8.6 0 1,0 17.2,0a8.6,8.6 0 1,0 -17.2,0M1524.3,189.0a8.6,8.6 0 1,0 17.2,0a8.6,8.6 0 1,0 -17.2,0M1559.1,202.6a8.6,8.6 0 1,0 17.2,0a8.6,8.6 0 1,0 -17.2,0M1591.1,245.2a8.6,8.6 0 1,0 17.2,0a8.6,8.6 0 1,0 -17.2,0M1512.7,257.7a8.6,8.6 0 1,0 17.2,0a8.6,8.6 0 1,0 -17.2,0M1613.3,233.5a8.6,8.6 0 1,0 17.2,0a8.6,8.6 0 1,0 -17.2,0M1624.9,237.4a8.6,8.6 0 1,0 17.2,0a8.6,8.6 0 1,0 -17.2,0M1633.6,239.3a8.6,8.6 0 1,0 17.2,0a8.6,8.6 0 1,0 -17.2,0M1645.3,245.2a8.6,8.6 0 1,0 17.2,0a8.6,8.6 0 1,0 -17.2,0M1609.5,245.2a8.6,8.6 0 1,0 17.2,0a8.6,8.6 0 1,0 -17.2,0M1652.0,269.3a8.6,8.6 0 1,0 17.2,0a8.6,8.6 0 1,0 -17.2,0M1670.4,262.6a8.6,8.6 0 1,0 17.2,0a8.6,8.6 0 1,0 -17.2,0M1657.8,287.7a8.6,8.6 0 1,0 17.2,0a8.6,8.6 0 1,0 -17.2,0M1673.3,283.9a8.6,8.6 0 1,0 17.2,0a8.6,8.6 0 1,0 -17.2,0M1683.0,283.9a8.6,8.6 0 1,0 17.2,0a8.6,8.6 0 1,0 -17.2,0M1681.1,272.3a8.6,8.6 0 1,0 17.2,0a8.6,8.6 0 1,0 -17.2,0M1694.6,309.0a8.6,8.6 0 1,0 17.2,0a8.6,8.6 0 1,0 -17.2,0M1555.3,197.1a8.6,8.6 0 1,0 17.2,0a8.6,8.6 0 1,0 -17.2,0M1623.0,247.4a8.6,8.6 0 1,0 17.2,0a8.6,8.6 0 1,0 -17.2,0M1665.6,289.0a8.6,8.6 0 1,0 17.2,0a8.6,8.6 0 1,0 -17.2,0M1675.3,293.9a8.6,8.6 0 1,0 17.2,0a8.6,8.6 0 1,0 -17.2,0M1706.2,313.2a8.6,8.6 0 1,0 17.2,0a8.6,8.6 0 1,0 -17.2,0M1686.9,319.0a8.6,8.6 0 1,0 17.2,0a8.6,8.6 0 1,0 -17.2,0M1737.2,326.8a8.6,8.6 0 1,0 17.2,0a8.6,8.6 0 1,0 -17.2,0M1715.3,337.7a8.6,8.6 0 1,0 17.2,0a8.6,8.6 0 1,0 -17.2,0M1711.4,354.2a8.6,8.6 0 1,0 17.2,0a8.6,8.6 0 1,0 -17.2,0M1724.0,347.4a8.6,8.6 0 1,0 17.2,0a8.6,8.6 0 1,0 -17.2,0M1730.7,359.0a8.6,8.6 0 1,0 17.2,0a8.6,8.6 0 1,0 -17.2,0M1742.4,327.1a8.6,8.6 0 1,0 17.2,0a8.6,8.6 0 1,0 -17.2,0M1748.2,369.7a8.6,8.6 0 1,0 17.2,0a8.6,8.6 0 1,0 -17.2,0M1755.9,352.3a8.6,8.6 0 1,0 17.2,0a8.6,8.6 0 1,0 -17.2,0M1762.7,354.2a8.6,8.6 0 1,0 17.2,0a8.6,8.6 0 1,0 -17.2,0M1769.5,370.6a8.6,8.6 0 1,0 17.2,0a8.6,8.6 0 1,0 -17.2,0M1779.1,374.5a8.6,8.6 0 1,0 17.2,0a8.6,8.6 0 1,0 -17.2,0M1790.7,345.5a8.6,8.6 0 1,0 17.2,0a8.6,8.6 0 1,0 -17.2,0M1809.1,361.9a8.6,8.6 0 1,0 17.2,0a8.6,8.6 0 1,0 -17.2,0M1784.9,404.5a8.6,8.6 0 1,0 17.2,0a8.6,8.6 0 1,0 -17.2,0M1794.6,411.3a8.6,8.6 0 1,0 17.2,0a8.6,8.6 0 1,0 -17.2,0M1814.9,407.4a8.6,8.6 0 1,0 17.2,0a8.6,8.6 0 1,0 -17.2,0M1831.4,416.1a8.6,8.6 0 1,0 17.2,0a8.6,8.6 0 1,0 -17.2,0M1844.9,410.3a8.6,8.6 0 1,0 17.2,0a8.6,8.6 0 1,0 -17.2,0M1819.5,439.0a8.6,8.6 0 1,0 17.2,0a8.6,8.6 0 1,0 -17.2,0M1837.8,454.5a8.6,8.6 0 1,0 17.2,0a8.6,8.6 0 1,0 -17.2,0M1849.5,467.1a8.6,8.6 0 1,0 17.2,0a8.6,8.6 0 1,0 -17.2,0M1864.0,459.3a8.6,8.6 0 1,0 17.2,0a8.6,8.6 0 1,0 -17.2,0M1868.8,497.1a8.6,8.6 0 1,0 17.2,0a8.6,8.6 0 1,0 -17.2,0M1877.5,503.9a8.6,8.6 0 1,0 17.2,0a8.6,8.6 0 1,0 -17.2,0M1885.3,509.7a8.6,8.6 0 1,0 17.2,0a8.6,8.6 0 1,0 -17.2,0M1881.4,523.2a8.6,8.6 0 1,0 17.2,0a8.6,8.6 0 1,0 -17.2,0M1898.8,485.5a8.6,8.6 0 1,0 17.2,0a8.6,8.6 0 1,0 -17.2,0M1894.9,496.1a8.6,8.6 0 1,0 17.2,0a8.6,8.6 0 1,0 -17.2,0M1924.0,500.0a8.6,8.6 0 1,0 17.2,0a8.6,8.6 0 1,0 -17.2,0M1912.4,527.1a8.6,8.6 0 1,0 17.2,0a8.6,8.6 0 1,0 -17.2,0M1959.8,522.2a8.6,8.6 0 1,0 17.2,0a8.6,8.6 0 1,0 -17.2,0M1805.9,424.5a8.6,8.6 0 1,0 17.2,0a8.6,8.6 0 1,0 -17.2,0M1911.4,532.9a8.6,8.6 0 1,0 17.2,0a8.6,8.6 0 1,0 -17.2,0M1954.9,545.5a8.6,8.6 0 1,0 17.2,0a8.6,8.6 0 1,0 -17.2,0M1929.8,561.9a8.6,8.6 0 1,0 17.2,0a8.6,8.6 0 1,0 -17.2,0M1939.5,560.0a8.6,8.6 0 1,0 17.2,0a8.6,8.6 0 1,0 -17.2,0M1905.6,572.6a8.6,8.6 0 1,0 17.2,0a8.6,8.6 0 1,0 -17.2,0M1975.3,550.3a8.6,8.6 0 1,0 17.2,0a8.6,8.6 0 1,0 -17.2,0M1970.4,556.1a8.6,8.6 0 1,0 17.2,0a8.6,8.6 0 1,0 -17.2,0M1984.0,567.7a8.6,8.6 0 1,0 17.2,0a8.6,8.6 0 1,0 -17.2,0M1965.6,588.1a8.6,8.6 0 1,0 17.2,0a8.6,8.6 0 1,0 -17.2,0M2002.4,577.4a8.6,8.6 0 1,0 17.2,0a8.6,8.6 0 1,0 -17.2,0M2013.0,587.1a8.6,8.6 0 1,0 17.2,0a8.6,8.6 0 1,0 -17.2,0M1996.5,610.3a8.6,8.6 0 1,0 17.2,0a8.6,8.6 0 1,0 -17.2,0M1989.8,623.9a8.6,8.6 0 1,0 17.2,0a8.6,8.6 0 1,0 -17.2,0M2020.7,629.7a8.6,8.6 0 1,0 17.2,0a8.6,8.6 0 1,0 -17.2,0M2007.2,600.6a8.6,8.6 0 1,0 17.2,0a8.6,8.6 0 1,0 -17.2,0" fill="#ffff00"/>
<path d="M1255.9,123.0 L1264.6,123.6 L1273.3,124.2 L1281.9,124.9 L1290.6,125.6 L1299.3,126.3 L1308.0,127.1 L1316.7,128.0 L1325.4,128.9 L1334.1,129.9 L1342.7,131.0 L1351.4,132.2 L1360.1,133.5 L1368.8,134.9 L1377.5,136.3 L1386.2,137.9 L1394.8,139.6 L1403.5,141.5 L1412.2,143.4 L1420.9,145.5 L1429.6,147.8 L1438.3,150.2 L1447.0,152.7 L1455.6,155.4 L1464.3,158.3 L1473.0,161.3 L1481.7,164.6 L1490.4,168.0 L1499.1,171.5 L1507.7,175.3 L1516.4,179.3 L1525.1,183.5 L1533.8,187.9 L1542.5,192.5 L1551.2,197.2 L1559.8,202.2 L1568.5,207.2 L1577.2,212.5 L1585.9,217.9 L1594.6,223.5 L1603.3,229.2 L1612.0,235.1 L1620.6,241.1 L1629.3,247.2 L1638.0,253.6 L1646.7,260.1 L1655.4,266.8 L1664.1,273.8 L1672.7,281.0 L1681.4,288.5 L1690.1,296.1 L1698.8,303.9 L1707.5,311.7 L1716.2,319.7 L1724.9,327.7 L1733.5,335.8 L1742.2,344.1 L1750.9,352.4 L1759.6,360.8 L1768.3,369.3 L1777.0,377.8 L1785.6,386.5 L1794.3,395.2 L1803.0,404.0 L1811.7,412.8 L1820.4,421.6 L1829.1,430.4 L1837.7,439.2 L1846.4,448.0 L1855.1,456.8 L1863.8,465.4 L1872.5,474.0 L1881.2,482.5 L1889.9,490.9 L1898.5,499.2 L1907.2,507.3 L1915.9,515.5 L1924.6,523.6 L1933.3,531.7 L1942.0,539.8 L1950.6,547.7 L1959.3,555.4 L1968.0,563.0 L1976.7,570.3 L1985.4,577.3 L1994.1,584.0 L2002.8,590.3 L2011.4,596.4 L2020.1,602.1 L2028.8,607.4" stroke="#ff0000" stroke-width="5.2" fill="none" stroke-linecap="square"/>
</g>
<rect x="1216.7" y="47.9" width="850.8" height="633.8" fill="none" stroke="#000" stroke-width="5.0"/>
<path d="M1223.7,681.7v8.7M1352.3,681.7v8.7M1481.0,681.7v8.7M1609.6,681.7v8.7M1738.2,681.7v8.7M1866.9,681.7v8.7M1995.5,681.7v8.7M1216.7,86.2h-8.7M1216.7,173.5h-8.7M1216.7,260.9h-8.7M1216.7,348.2h-8.7M1216.7,435.5h-8.7M1216.7,522.9h-8.7M1216.7,610.2h-8.7" stroke="#000" stroke-width="2.0" fill="none"/>
<g font-size="25.5px">
<text transform="translate(1223.9,717.4) scale(0.96,1)" text-anchor="middle">3.0</text>
<text transform="translate(1352.5,717.4) scale(0.96,1)" text-anchor="middle">3.5</text>
<text transform="translate(1481.2,717.4) scale(0.96,1)" text-anchor="middle">4.0</text>
<text transform="translate(1609.8,717.4) scale(0.96,1)" text-anchor="middle">4.5</text>
<text transform="translate(1738.4,717.4) scale(0.96,1)" text-anchor="middle">5.0</text>
<text transform="translate(1867.1,717.4) scale(0.96,1)" text-anchor="middle">5.5</text>
<text transform="translate(1995.7,717.4) scale(0.96,1)" text-anchor="middle">6.0</text>
<text transform="translate(1200.8,95.7) scale(0.96,1)" text-anchor="end">−10.0</text>
<text transform="translate(1200.8,183.0) scale(0.96,1)" text-anchor="end">−10.5</text>
<text transform="translate(1200.8,270.4) scale(0.96,1)" text-anchor="end">−11.0</text>
<text transform="translate(1200.8,357.7) scale(0.96,1)" text-anchor="end">−11.5</text>
<text transform="translate(1200.8,445.0) scale(0.96,1)" text-anchor="end">−12.0</text>
<text transform="translate(1200.8,532.4) scale(0.96,1)" text-anchor="end">−12.5</text>
<text transform="translate(1200.8,619.7) scale(0.96,1)" text-anchor="end">−13.0</text>
</g>
<text transform="translate(1642.6,33.9) scale(0.97,1)" text-anchor="middle" font-size="29.5px">GRB121217A</text>
<text x="1642.0" y="764.9" text-anchor="middle" font-size="45.2px"><tspan font-style="italic">log</tspan><tspan font-size="31.6px" dy="7.5">10</tspan><tspan dy="-7.5">(</tspan><tspan font-style="italic" dx="1.5">time</tspan>) (s)</text>
<text transform="translate(1105.5,365.0) rotate(-90)" text-anchor="middle" font-size="45.2px"><tspan font-style="italic">log</tspan><tspan font-size="31.6px" dy="7.5">10</tspan><tspan dy="-7.5">(</tspan><tspan font-style="italic">Flux</tspan>) (<tspan font-style="italic">erg cm</tspan><tspan font-size="31.6px" dy="-16.0" dx="4.0">−2</tspan><tspan font-style="italic" dy="16.0">s</tspan><tspan font-size="31.6px" dy="-16.0">−1</tspan><tspan dy="16.0">)</tspan></text>
</svg>
</body>
</html>
